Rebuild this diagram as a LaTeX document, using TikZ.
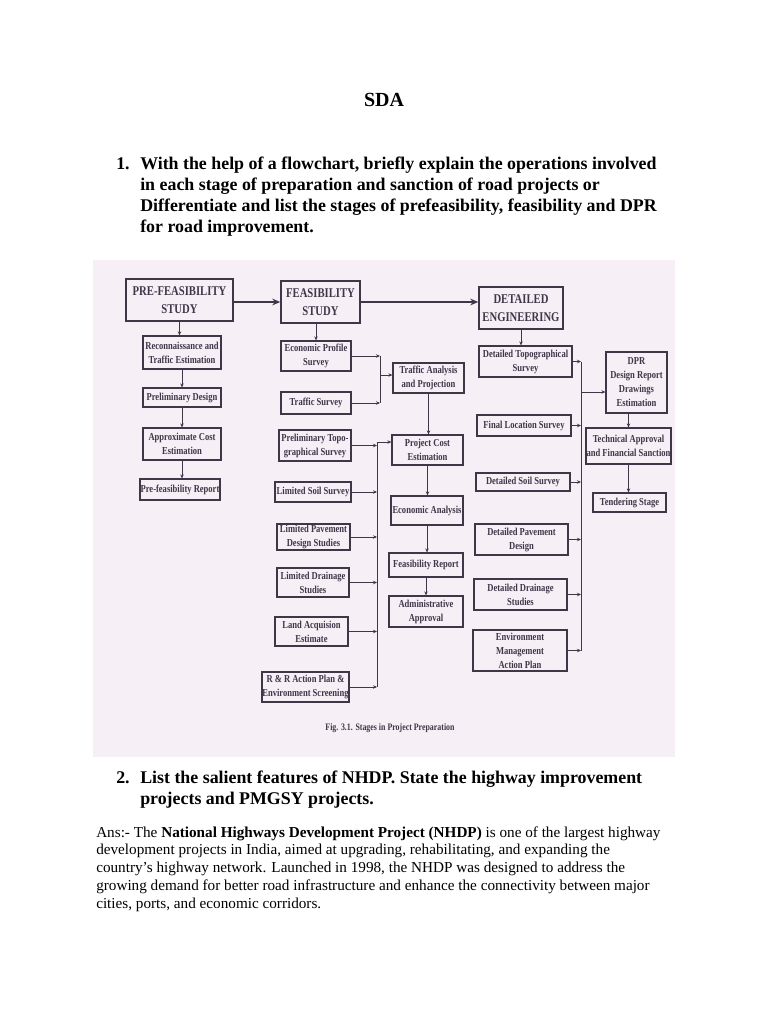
\documentclass[tikz,border=0pt]{standalone}
\usepackage{fontspec}
\setmainfont{Liberation Serif}
\newfontfamily\scanfont[FakeStretch=0.8]{Liberation Serif}
\usetikzlibrary{arrows.meta}
\definecolor{scanbg}{RGB}{246,239,246}
\definecolor{ink}{RGB}{62,55,72}

\begin{document}
\begin{tikzpicture}[x=0.75pt,y=-0.75pt] %% pixel grid, y downwards
	\tikzstyle{stage}=[draw=ink,line width=1.1pt,inner sep=0pt,align=center,text=ink,font=\scanfont\bfseries\fontsize{10}{13.5}\selectfont];
	\tikzstyle{task}=[draw=ink,line width=0.9pt,inner sep=0pt,align=center,text=ink,font=\scanfont\bfseries\fontsize{8}{10.5}\selectfont];
	\tikzstyle{link}=[draw=ink,line width=0.6pt,-{Stealth[length=3pt,width=2.6pt]}];
	\tikzstyle{bigarrow}=[draw=ink,line width=0.8pt,-{Stealth[length=6pt,width=5pt]}];
	\tikzstyle{bus}=[draw=ink,line width=0.6pt];
	\tikzstyle{page}=[inner sep=0pt,align=left];
	\useasboundingbox (0,0) rectangle (768,1024);
	%% page text
	\node[inner sep=0pt,font=\bfseries\fontsize{15}{18}\selectfont] (title) at (384,100) {SDA};
	\node[page,anchor=base west,font=\bfseries\fontsize{13.4}{15.75}\selectfont] (n1) at (116,169) {1.};
	\node[page,anchor=base west,font=\bfseries\fontsize{13.4}{15.75}\selectfont] (q1) at (140,232)
		{With the help of a flowchart, briefly explain the operations involved\\
		in each stage of preparation and sanction of road projects or\\
		Differentiate and list the stages of prefeasibility, feasibility and DPR\\
		for road improvement.};
	%% scanned figure
	\fill[scanbg] (93,260) rectangle (675,757);
	\node[stage,minimum width=80.25pt,minimum height=31.5pt] (pfs) at (179.5,300) {PRE-FEASIBILITY\\STUDY};
	\node[stage,minimum width=59.25pt,minimum height=31.5pt] (fs) at (320.5,302) {FEASIBILITY\\STUDY};
	\node[stage,minimum width=63pt,minimum height=31.5pt] (de) at (521,308) {DETAILED\\ENGINEERING};
	\draw[bigarrow] (pfs.east |- fs.west) -- (fs.west);
	\draw[bigarrow] (fs.east) -- (fs.east -| de.west);
	%% pre-feasibility column
	\node[task,minimum width=58.5pt,minimum height=24.75pt] (rte) at (182,352.5) {Reconnaissance and\\Traffic Estimation};
	\node[task,minimum width=58.5pt,minimum height=14.25pt] (pd) at (182,397.5) {Preliminary Design};
	\node[task,minimum width=58.5pt,minimum height=24pt] (ace) at (182,444) {Approximate Cost\\Estimation};
	\node[task,minimum width=60pt,minimum height=15.75pt] (pfr) at (180,489.5) {Pre-feasibility Report};
	\draw[link] (pfs.south) -- (pfs.south |- rte.north);
	\draw[link] (rte.south) -- (rte.south |- pd.north);
	\draw[link] (pd.south) -- (pd.south |- ace.north);
	\draw[link] (ace.south) -- (ace.south |- pfr.north);
	%% feasibility column
	\node[task,minimum width=52.5pt,minimum height=22.5pt] (eps) at (316,356) {Economic Profile\\Survey};
	\node[task,minimum width=52.5pt,minimum height=16.5pt] (ts) at (316,403) {Traffic Survey};
	\node[task,minimum width=54pt,minimum height=23.25pt] (pts) at (315,445.5) {Preliminary Topo-\\graphical Survey};
	\node[task,minimum width=57pt,minimum height=15pt] (lss) at (313,492) {Limited Soil Survey};
	\node[task,minimum width=54.75pt,minimum height=19.5pt] (lpds) at (313.5,537) {Limited Pavement\\Design Studies};
	\node[task,minimum width=54pt,minimum height=21.75pt] (lds) at (313,582.5) {Limited Drainage\\Studies};
	\node[task,minimum width=54.75pt,minimum height=21.75pt] (lae) at (311.5,631.5) {Land Acquision\\Estimate};
	\node[task,minimum width=65.25pt,minimum height=22.5pt] (rr) at (305.5,687) {R \& R Action Plan \&\\Environment Screening};
	\draw[link] (eps.north |- fs.south) -- (eps.north);
	\node[task,minimum width=53.25pt,minimum height=22.5pt] (tap) at (428.5,378) {Traffic Analysis\\and Projection};
	\node[task,minimum width=53.25pt,minimum height=22.5pt] (pce) at (427.5,450) {Project Cost\\Estimation};
	\node[task,minimum width=54pt,minimum height=21.75pt] (ea) at (427,510.5) {Economic Analysis};
	\node[task,minimum width=55.5pt,minimum height=18pt] (fr) at (426,565) {Feasibility Report};
	\node[task,minimum width=55.5pt,minimum height=23.25pt] (aa) at (426,611.5) {Administrative\\Approval};
	%% collecting lines
	\coordinate (bus1) at (380,375);
	\draw[link] (eps.east) -- (eps.east -| bus1);
	\draw[link] (ts.east) -- (ts.east -| bus1);
	\draw[bus] (eps.east -| bus1) -- (ts.east -| bus1);
	\draw[link] (bus1) -- (bus1 -| tap.west);
	\coordinate (bus2) at (377,442);
	\draw[bus] (bus2) -- (rr.east -| bus2);
	\draw[link] (bus2) -- (bus2 -| pce.west);
	\foreach \n in {pts,lss,lpds,lds,lae,rr}
		\draw[link] (\n.east) -- (\n.east -| bus2);
	\draw[link] (tap.south) -- (tap.south |- pce.north);
	\draw[link] (pce.south) -- (pce.south |- ea.north);
	\draw[link] (ea.south) -- (ea.south |- fr.north);
	\draw[link] (fr.south) -- (fr.south |- aa.north);
	%% detailed engineering column
	\node[task,minimum width=69.75pt,minimum height=23.25pt] (dts) at (525.5,361.5) {Detailed Topographical\\Survey};
	\node[task,minimum width=70.5pt,minimum height=15.75pt] (fls) at (524,425.5) {Final Location Survey};
	\node[task,minimum width=70.5pt,minimum height=13.5pt] (dss) at (523,482) {Detailed Soil Survey};
	\node[task,minimum width=69.75pt,minimum height=23.25pt] (dpd) at (521.5,539.5) {Detailed Pavement\\Design};
	\node[task,minimum width=69.75pt,minimum height=23.25pt] (dds) at (520.5,594.5) {Detailed Drainage\\Studies};
	\node[task,minimum width=70.5pt,minimum height=30.75pt] (emap) at (520,650.5) {Environment\\Management\\Action Plan};
	\draw[link] (de.south) -- (de.south |- dts.north);
	\node[task,minimum width=45.75pt,minimum height=45.75pt] (dpr) at (636.5,382.5) {DPR\\Design Report\\Drawings\\Estimation};
	\node[task,minimum width=63.75pt,minimum height=27pt] (taf) at (628.5,446) {Technical Approval\\and Financial Sanction};
	\node[task,minimum width=54.75pt,minimum height=14.25pt] (tst) at (629.5,502.5) {Tendering Stage};
	\coordinate (bus3) at (581,392);
	\draw[bus] (dts.east -| bus3) -- (emap.east -| bus3);
	\foreach \n in {dts,fls,dss,dpd,dds,emap}
		\draw[link] (\n.east) -- (\n.east -| bus3);
	\draw[link] (bus3) -- (bus3 -| dpr.west);
	\draw[link] (taf.north |- dpr.south) -- (taf.north);
	\draw[link] (taf.south) -- (taf.south |- tst.north);
	\node[text=ink,font=\scanfont\bfseries\fontsize{7.4}{8.5}\selectfont] (cap) at (390,728) {Fig. 3.1. Stages in Project Preparation};
	%% second question and answer
	\node[page,anchor=base west,font=\bfseries\fontsize{13.4}{15.75}\selectfont] (n2) at (116,783) {2.};
	\node[page,anchor=base west,font=\bfseries\fontsize{13.4}{15.75}\selectfont] (q2) at (140,804)
		{List the salient features of NHDP. State the highway improvement\\
		projects and PMGSY projects.};
	\node[page,anchor=base west,font=\fontsize{11.4}{13.3}\selectfont] (ans) at (96,908)
		{Ans:- The \textbf{National Highways Development Project (NHDP)} is one of the largest highway\\
		development projects in India, aimed at upgrading, rehabilitating, and expanding the\\
		country's highway network. Launched in 1998, the NHDP was designed to address the\\
		growing demand for better road infrastructure and enhance the connectivity between major\\
		cities, ports, and economic corridors.};
\end{tikzpicture}
\end{document}
